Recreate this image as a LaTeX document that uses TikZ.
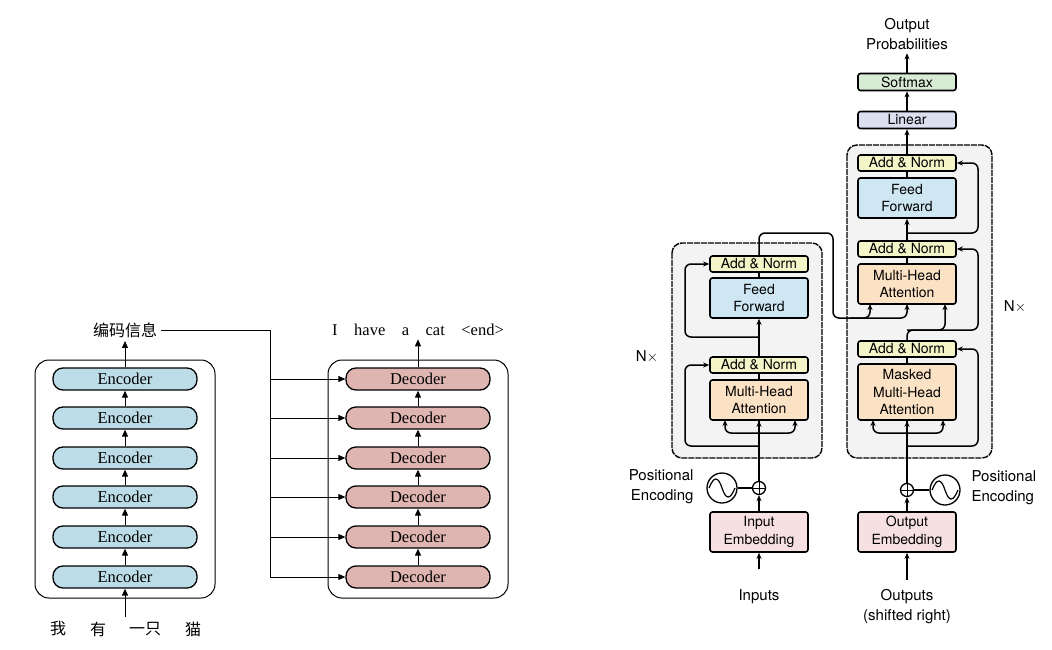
\documentclass[tikz,border=0pt]{standalone}
\usepackage{fontspec}
\setmainfont{Liberation Serif}
\newfontfamily\sansf{TeX Gyre Heros}
\newfontfamily\cjk{Noto Sans CJK SC}
\usetikzlibrary{arrows.meta}
\definecolor{encc}{HTML}{BCDDE8}
\definecolor{decc}{HTML}{DFB5B1}
\definecolor{anc}{HTML}{F3F5C9}
\definecolor{ffc}{HTML}{CFE6F3}
\definecolor{mhac}{HTML}{FBE2C4}
\definecolor{embc}{HTML}{F6E0E2}
\definecolor{linc}{HTML}{DCDFF0}
\definecolor{smc}{HTML}{D7EBD5}
\definecolor{grayc}{HTML}{F3F3F3}
\begin{document}
\begin{tikzpicture}[x=1pt,y=-1pt,
  pill/.style={draw,line width=1.3pt,rounded corners=10pt,minimum width=144pt,minimum height=22pt,inner sep=0pt,font=\fontsize{16.5}{16.5}\selectfont},
  outer/.style={draw,line width=1pt,rounded corners=14pt},
  la/.style={-{Triangle[length=7pt,width=6pt]},line width=1pt},
  blk/.style={draw,line width=1.6pt,rounded corners=2.5pt,minimum width=98pt,inner sep=0pt,font=\sansf\fontsize{14}{17.5}\selectfont,align=center},
  an/.style={blk,fill=anc,minimum height=16pt},
  big/.style={blk,minimum height=40pt},
  gbox/.style={draw,line width=1.4pt,dash pattern=on 6pt off 1pt,fill=grayc,rounded corners=10pt},
  ra/.style={-{Stealth[length=6pt,width=5pt]},line width=1.5pt},
  rl/.style={line width=1.5pt,rounded corners=6pt},
  st/.style={font=\sansf\fontsize{15}{20}\selectfont,align=center}]
\useasboundingbox (0,0) rectangle (1052,650);
% ---------- left diagram
\draw[outer] (35,360) rectangle (215,598);
\draw[outer] (328,360) rectangle (508,598);
\foreach \i/\y in {1/577,2/537,3/497,4/458,5/418,6/379}{
  \node[pill,fill=encc] (e\i) at (125,\y) {Encoder};
  \node[pill,fill=decc] (d\i) at (418,\y) {Decoder};
}
\foreach \i/\j in {1/2,2/3,3/4,4/5,5/6}{
  \draw[la] (e\i) -- (e\j);
  \draw[la] (d\i) -- (d\j);
}
\node[font=\cjk\fontsize{16}{16}\selectfont] (info) at (125,330) {编码信息};
\draw[la] (e6) -- (info);
\node[font=\fontsize{16.5}{16.5}\selectfont] (out) at (418,330) {I\quad have\quad a\quad cat\quad <end>};
\draw[la] (d6) -- (out.south -| d6);
\coordinate (inb) at (125,617);
\draw[la] (inb) -- (e1);
\foreach \t/\x in {我/58,有/98,一只/145,猫/193}
  \node[font=\cjk\fontsize{16}{16}\selectfont] at (\x,629) {\t};
\coordinate (bus) at (270,330);
\draw[line width=0.8pt] (info.east) -- (bus) -- (270,577);
\foreach \i in {1,...,6}
  \draw[la,line width=0.8pt] (270,0 |- d\i) -- (d\i.west);
% ---------- right: encoder
\draw[gbox] (672,243) rectangle (822,458);
\draw[gbox] (847,145) rectangle (992,458);
\node[an] (ean2) at (759,264) {Add \& Norm};
\node[big,fill=ffc] (eff) at (759,298) {Feed\\Forward};
\node[an] (ean1) at (759,365) {Add \& Norm};
\node[big,fill=mhac] (emha) at (759,400) {Multi-Head\\Attention};
\node[big,fill=embc] (iemb) at (759,532) {Input\\Embedding};
\node[st] (inp) at (759,597) {Inputs};
\node[draw,circle,line width=1.3pt,minimum size=13pt,inner sep=0pt] (eplus) at (759,488) {};
\draw[line width=1pt] (eplus.north) -- (eplus.south) (eplus.west) -- (eplus.east);
\node[draw,circle,line width=1.3pt,minimum size=30pt,inner sep=0pt] (epos) at (722,488) {};
\draw[line width=1.2pt] (709,488) .. controls (714,476) and (718,476) .. (722,488) .. controls (726,500) and (730,500) .. (735,488);
\node[st,align=right,anchor=east] at (697,487) {Positional\\Encoding};
\node[st] at (647,357) {N$\times$};
\draw[ra] (inp.north) ++(0,-17) -- (iemb.south);
\draw[ra] (iemb.north) -- (eplus.south);
\draw[line width=1.5pt] (epos.east) -- (eplus.west);
\draw[line width=1.5pt] (eplus.north) -- (759,420);
\draw[ra] (759,436) -- (emha.south);
\draw[ra,rounded corners=6pt] (759,433) -| (725,420);
\draw[ra,rounded corners=6pt] (759,433) -| (795,420);
\draw[ra,rl] (759,446) -| (685,365) -- (ean1.west);
\draw[line width=1.5pt] (emha) -- (ean1);
\draw[ra] (ean1.north) -- (eff.south);
\draw[ra,rl] (759,337) -| (685,264) -- (ean2.west);
\draw[line width=1.5pt] (eff) -- (ean2);
% ---------- right: decoder
\node[an] (dan3) at (907,163) {Add \& Norm};
\node[big,fill=ffc] (dff) at (907,198) {Feed\\Forward};
\node[an] (dan2) at (907,249) {Add \& Norm};
\node[big,fill=mhac] (dmha) at (907,284) {Multi-Head\\Attention};
\node[an] (dan1) at (907,349) {Add \& Norm};
\node[blk,fill=mhac,minimum height=56pt] (dmm) at (907,392) {Masked\\Multi-Head\\Attention};
\node[big,fill=embc] (oemb) at (907,532) {Output\\Embedding};
\node[st] (outp) at (907,607) {Outputs\\(shifted right)};
\node[blk,fill=linc,minimum height=17pt] (lin) at (907,120) {Linear};
\node[blk,fill=smc,minimum height=17pt] (sm) at (907,82) {Softmax};
\node[st] (prob) at (907,34) {Output\\Probabilities};
\node[draw,circle,line width=1.3pt,minimum size=13pt,inner sep=0pt] (dplus) at (907,490) {};
\draw[line width=1pt] (dplus.north) -- (dplus.south) (dplus.west) -- (dplus.east);
\node[draw,circle,line width=1.3pt,minimum size=30pt,inner sep=0pt] (dpos) at (945,490) {};
\draw[line width=1.2pt] (932,490) .. controls (937,478) and (941,478) .. (945,490) .. controls (949,502) and (953,502) .. (958,490);
\node[st,align=left,anchor=west] at (968,488) {Positional\\Encoding};
\node[st] at (1015,307) {N$\times$};
\draw[ra] (907,580) -- (oemb.south);
\draw[ra] (oemb.north) -- (dplus.south);
\draw[line width=1.5pt] (dpos.west) -- (dplus.east);
\draw[line width=1.5pt] (dplus.north) -- (907,420);
\draw[ra] (907,436) -- (dmm.south);
\draw[ra,rounded corners=6pt] (907,433) -| (873,420);
\draw[ra,rounded corners=6pt] (907,433) -| (943,420);
\draw[ra,rl] (907,446) -| (978,349) -- (dan1.east);
\draw[line width=1.5pt] (dmm) -- (dan1);
\draw[ra,rl] (dan1.north) -- (907,330) -| (945,304);
\draw[ra,rl] (907,330) -| (978,249) -- (dan2.east);
\draw[line width=1.5pt] (dmha) -- (dan2);
\draw[ra] (dan2.north) -- (dff.south);
\draw[ra,rl] (907,233) -| (978,163) -- (dan3.east);
\draw[line width=1.5pt] (dff) -- (dan3);
\draw[ra] (dan3.north) -- (lin.south);
\draw[ra] (lin.north) -- (sm.south);
\draw[ra] (sm.north) -- (prob.south);
% encoder output to decoder
\draw[ra,rl] (ean2.north) -- (759,233) -- (833,233) -- (833,318) -| (870,304);
\draw[ra,rl] (850,318) -| (907,304);
\end{tikzpicture}
\end{document}
